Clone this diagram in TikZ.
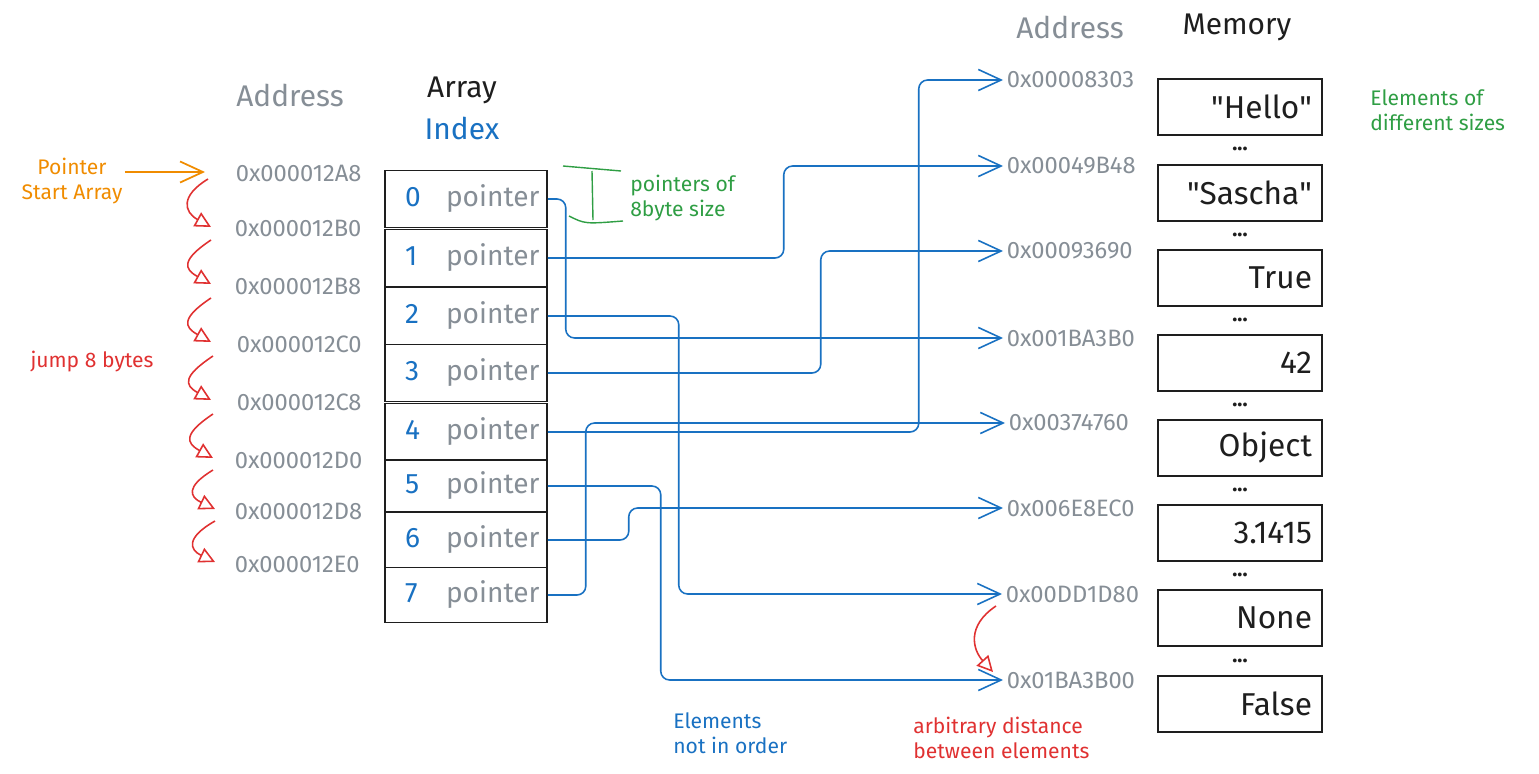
\documentclass[tikz,border=0pt]{standalone}
\usepackage{fontspec}
\setmainfont{Fira Sans}
\usetikzlibrary{arrows.meta,positioning}
\definecolor{inkgray}{HTML}{868E96}
\definecolor{inkblue}{HTML}{1971C2}
\definecolor{inkred}{HTML}{E03131}
\definecolor{inkgreen}{HTML}{2F9E44}
\definecolor{inkorange}{HTML}{F08C00}
\definecolor{ink}{HTML}{1E1E1E}

\begin{document}
\begin{tikzpicture}[
    x=0.02cm, y=-0.02cm,
    head/.style={font=\fontsize{17}{20}\selectfont, inner sep=0pt},
    addr/.style={font=\fontsize{13.5}{16}\selectfont, text=inkgray, inner sep=2pt},
    note/.style={font=\fontsize{12}{14.5}\selectfont, align=left, anchor=west, inner sep=0pt},
    cell/.style={draw=ink, line width=0.9pt, minimum height=1.14cm, inner xsep=0.4cm,
        text width=2.44cm, align=left, text=inkgray, font=\fontsize{16}{18}\selectfont},
    mem/.style={draw=ink, line width=0.9pt, minimum height=1.12cm, inner xsep=0.2cm,
        text width=2.88cm, align=right, text=ink, font=\fontsize{18}{20}\selectfont},
    dots/.style={font=\bfseries\fontsize{12}{14}\selectfont, text=ink, inner sep=0pt},
    link/.style={draw=inkblue, line width=0.9pt, rounded corners=5pt,
        -{Straight Barb[length=13pt,width=12pt]}},
    jump/.style={draw=inkred, line width=0.9pt, -{Triangle[open,length=9pt,width=9pt]}},
    brace/.style={draw=inkgreen, line width=0.8pt}
]
\useasboundingbox (0,0) rectangle (1539,774);

\node[head, text=inkgray] (addrL) at (290,95) {Address};
\node[head, text=ink] (arr) at (462,90) {Array};
\node[head, text=inkblue, below=0.25cm of arr] (idx) {Index};
\node[head, text=inkgray] (addrR) at (1070,27) {Address};
\node[head, text=ink] (memo) at (1237,27) {Memory};

\node[note, text=inkorange, align=center, anchor=center] (start) at (72,181) {Pointer\\Start Array};
\node[note, text=inkred, anchor=center] (jmp) at (92,362) {jump 8 bytes};

\node[addr, anchor=west] (a0) at (232,173) {0x000012A8};
\node[addr, anchor=west] (a1) at (231,228) {0x000012B0};
\node[addr, anchor=west] (a2) at (231,286) {0x000012B8};
\node[addr, anchor=west] (a3) at (233,344) {0x000012C0};
\node[addr, anchor=west] (a4) at (233,402) {0x000012C8};
\node[addr, anchor=west] (a5) at (231,460) {0x000012D0};
\node[addr, anchor=west] (a6) at (231,511) {0x000012D8};
\node[addr, anchor=west] (a7) at (231,564) {0x000012E0};

\node[cell] (c0) at (466,199) {\makebox[0.82cm][l]{\textcolor{inkblue}{0}}pointer};
\node[cell] (c1) at (466,258) {\makebox[0.82cm][l]{\textcolor{inkblue}{1}}pointer};
\node[cell] (c2) at (466,316) {\makebox[0.82cm][l]{\textcolor{inkblue}{2}}pointer};
\node[cell] (c3) at (466,373) {\makebox[0.82cm][l]{\textcolor{inkblue}{3}}pointer};
\node[cell] (c4) at (466,432) {\makebox[0.82cm][l]{\textcolor{inkblue}{4}}pointer};
\node[cell, minimum height=1.04cm] (c5) at (466,486) {\makebox[0.82cm][l]{\textcolor{inkblue}{5}}pointer};
\node[cell, minimum height=1.1cm] (c6) at (466,540) {\makebox[0.82cm][l]{\textcolor{inkblue}{6}}pointer};
\node[cell, minimum height=1.1cm] (c7) at (466,595) {\makebox[0.82cm][l]{\textcolor{inkblue}{7}}pointer};

\node[note, text=inkgreen] (size) at (630,198) {pointers of\\8byte size};

\node[addr, anchor=west] (r0) at (1003,80) {0x00008303};
\node[addr, anchor=west] (r1) at (1003,166) {0x00049B48};
\node[addr, anchor=west] (r2) at (1003,251) {0x00093690};
\node[addr, anchor=west] (r3) at (1003,338) {0x001BA3B0};
\node[addr, anchor=west] (r4) at (1005,423) {0x00374760};
\node[addr, anchor=west] (r5) at (1003,508) {0x006E8EC0};
\node[addr, anchor=west] (r6) at (1002,594) {0x00DD1D80};
\node[addr, anchor=west] (r7) at (1003,680) {0x01BA3B00};

\node[mem] (m0) at (1240,107) {\textquotedbl Hello\textquotedbl};
\node[mem] (m1) at (1240,193) {\textquotedbl Sascha\textquotedbl};
\node[mem] (m2) at (1240,278) {True};
\node[mem] (m3) at (1240,363) {42};
\node[mem] (m4) at (1240,448) {Object};
\node[mem] (m5) at (1240,533) {3.1415};
\node[mem] (m6) at (1240,618) {None};
\node[mem] (m7) at (1240,704) {False};

\node[dots] at (1240,149) {...};
\node[dots] at (1240,235) {...};
\node[dots] at (1240,320) {...};
\node[dots] at (1240,405) {...};
\node[dots] at (1240,490) {...};
\node[dots] at (1240,575) {...};
\node[dots] at (1240,661) {...};

\node[note, text=inkgreen] (sizes) at (1370,110) {Elements of\\different sizes};
\node[note, text=inkblue] (order) at (673,733) {Elements\\not in order};
\node[note, text=inkred] (dist) at (913,738) {arbitrary distance\\between elements};

\draw[inkorange, line width=1pt, -{Straight Barb[length=13pt,width=12pt]}]
    ([shift={(2,-9)}]start.east) -- ([shift={(-27,-1)}]a0.west);

\draw[jump] ([shift={(-24,6)}]a0.west) .. controls +(-28,17) and +(-27,-15) .. ([shift={(-20,-1)}]a1.west);
\draw[jump] ([shift={(-20,12)}]a1.west) .. controls +(-30,20) and +(-27,-15) .. ([shift={(-20,-2)}]a2.west);
\draw[jump] ([shift={(-20,12)}]a2.west) .. controls +(-30,20) and +(-27,-15) .. ([shift={(-22,-2)}]a3.west);
\draw[jump] ([shift={(-20,12)}]a3.west) .. controls +(-30,20) and +(-27,-15) .. ([shift={(-22,-2)}]a4.west);
\draw[jump] ([shift={(-20,12)}]a4.west) .. controls +(-30,20) and +(-27,-15) .. ([shift={(-18,-2)}]a5.west);
\draw[jump] ([shift={(-18,10)}]a5.west) .. controls +(-28,17) and +(-25,-12) .. ([shift={(-16,-2)}]a6.west);
\draw[jump] ([shift={(-16,10)}]a6.west) .. controls +(-30,17) and +(-25,-12) .. ([shift={(-16,-2)}]a7.west);
\draw[jump] ([shift={(-6,12)}]r6.west) .. controls +(-30,20) and +(-20,-22) .. ([shift={(-10,-8)}]r7.west);

\draw[brace] (563,166) -- (621,171);
\draw[brace] (592,171) -- (593,220);
\draw[brace] (569,216) .. controls (585,224) .. (623,221);

\draw[link] (c0.east) -- ++(18,0) |- (r3.west);
\draw[link] (c1.east) -- ++(236,0) |- (r1.west);
\draw[link] (c2.east) -- ++(131,0) |- (r6.west);
\draw[link] (c3.east) -- ++(273,0) |- (r2.west);
\draw[link] (c4.east) -- ++(371,0) |- (r0.west);
\draw[link] (c5.east) -- ++(113,0) |- (r7.west);
\draw[link] (c6.east) -- ++(81,0) |- (r5.west);
\draw[link] (c7.east) -- ++(38,0) |- (r4.west);

\end{tikzpicture}
\end{document}
